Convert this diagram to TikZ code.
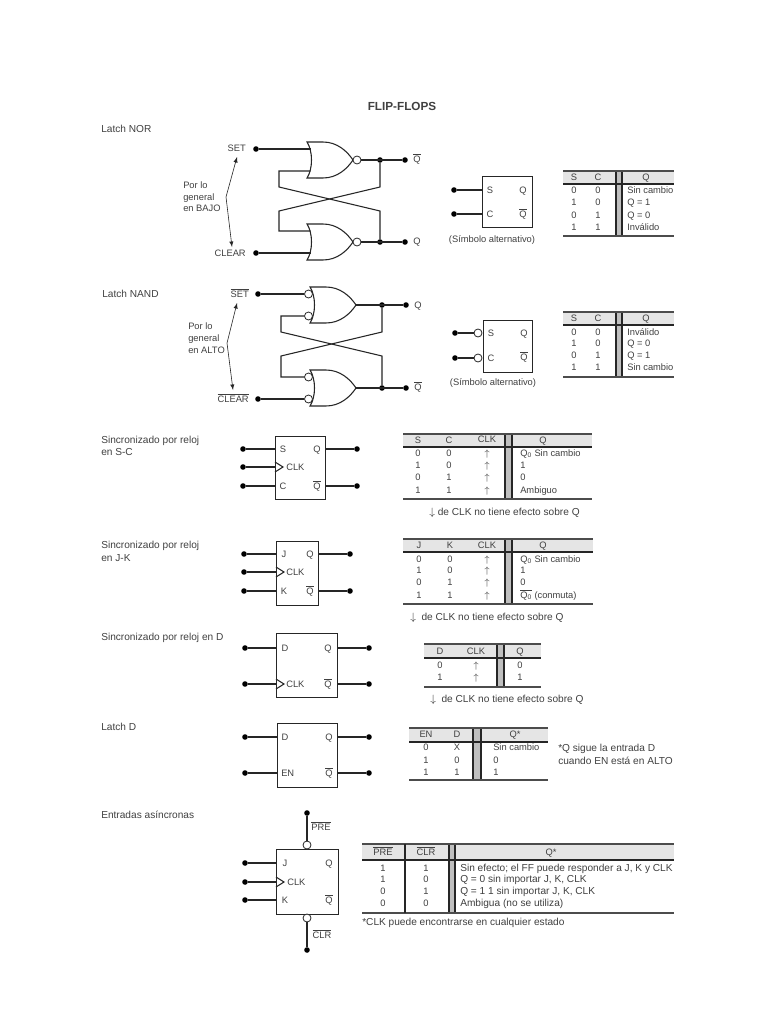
\documentclass[tikz,border=0pt]{standalone}
\usepackage{amsmath,fontspec}
\setmainfont{Liberation Sans}

\definecolor{txt}{gray}{0.25}
\definecolor{headfill}{gray}{0.9}
\definecolor{barfill}{gray}{0.75}

\newcommand{\ovl}[1]{$\overline{\hbox{#1}}$}
\newcommand{\tabframe}[7]{
  \fill[headfill] (#1,#3) rectangle (#2,#4);
  \fill[barfill] (#6,#3) rectangle (#7,#5);
  \draw[wire] (#6,#3) -- (#6,#5) (#7,#3) -- (#7,#5) (#1,#4) -- (#2,#4);
  \draw[heavy,black!70] (#1,#3) -- (#2,#3) (#1,#5) -- (#2,#5);
}

\tikzset{
  every node/.style={font=\fontsize{7}{8}\selectfont,text=txt,inner sep=0pt},
  big/.style={font=\fontsize{7.6}{9}\selectfont},
  wire/.style={line width=0.8pt,black!85},
  heavy/.style={line width=1.3pt,black!85},
  pinpt/.style={circle,fill=black,minimum size=4.2pt},
  ffbox/.style={draw=black!85,line width=0.8pt,anchor=north west},
  boxw/.style={minimum width=#1*0.75pt},
  boxh/.style={minimum height=#1*0.75pt},
  bubble/.style={circle,draw=black!85,line width=0.6pt,fill=white,minimum size=6pt},
  cell/.style={anchor=base,yshift=-2.5pt},
  lft/.style={anchor=base west,yshift=-2.5pt},
  rgt/.style={anchor=base east,yshift=-2.5pt},
  hint/.style={line width=0.45pt,black!85,<->,>=latex},
  orbody/.pic={
    \draw[wire,fill=white] (0,-18) -- (16,-18) .. controls (30,-18) and (40,-9) .. (46,0)
      .. controls (40,9) and (30,18) .. (16,18) -- (0,18)
      .. controls (6,9) and (6,-9) .. (0,-18) -- cycle;
    \coordinate (-ina) at (3.5,-11);
    \coordinate (-inb) at (3.5,11);
    \coordinate (-out) at (46,0);
  },
}

\begin{document}
\begin{tikzpicture}[x=0.75pt,y=-0.75pt]
  \useasboundingbox (0,0) rectangle (768,1024);
  \fill[white] (0,0) rectangle (768,1024);

  \node[font=\fontsize{8.8}{10}\bfseries\selectfont] (title) at (402,106) {FLIP-FLOPS};

  \node[lft,big] (nortxt) at (101,129) {Latch NOR};
  \pic (nora) at (307,160) {orbody};
  \pic (norb) at (307,242) {orbody};
  \node[bubble] (bna) at (357,160) {};
  \node[bubble] (bnb) at (357,242) {};
  \node[pinpt] (set) at (256,149) {};
  \node[pinpt] (clear) at (256,253) {};
  \node[pinpt] (qna) at (405,160) {};
  \node[pinpt] (qa) at (405,242) {};
  \node[pinpt] (ja) at (380,160) {};
  \node[pinpt] (jb) at (380,242) {};
  \draw[wire] (set) -- (nora-ina);
  \draw[wire] (clear) -- (norb-inb);
  \draw[wire] (bna) -- (qna);
  \draw[wire] (bnb) -- (qa);
  \draw[wire] (ja) -- (380,187) -- (279,211) -- (279,231) -- (norb-ina);
  \draw[wire] (jb) -- (380,211) -- (279,187) -- (279,171) -- (nora-inb);
  \node[rgt] (setl) at (246,148) {SET};
  \node[rgt] (clearl) at (246,253) {CLEAR};
  \node[lft] (qnal) at (413,159) {\ovl{Q}};
  \node[lft] (qal) at (413,241) {Q};
  \node[lft] (hinta) at (183,185) {Por lo};
  \node[lft] (hintb) at (183,197) {general};
  \node[lft] (hintc) at (183,208) {en BAJO};
  \coordinate (hs) at (237,157);
  \coordinate (hm) at (226,197);
  \coordinate (hc) at (232,247);
  \draw[hint] (hs) -- (hm) -- (hc);

  \node[ffbox,boxw=50,boxh=51] (alta) at (482,176) {};
  \node[pinpt] (alas) at (454,190) {};
  \node[pinpt] (alac) at (454,214) {};
  \draw[wire] (alas) -- (alas -| alta.west);
  \draw[wire] (alac) -- (alac -| alta.west);
  \node[cell] (altas) at (490,190) {S};
  \node[cell] (altac) at (490,214) {C};
  \node[cell] (altaq) at (523,190) {Q};
  \node[cell] (altan) at (523,214) {\ovl{Q}};
  \node[cell] (altat) at (492,239) {(Símbolo alternativo)};

  \tabframe{563}{674}{171}{184}{236}{616}{622}
  \node[cell] (tas) at (574,177) {S};
  \node[cell] (tac) at (598,177) {C};
  \node[cell] (taq) at (646,177) {Q};
  \foreach \yy/\a/\b/\q in {190/0/0/Sin cambio,202/1/0/Q = 1,215/0/1/Q = 0,227/1/1/Inválido}{
    \node[cell] (ta\yy s) at (574,\yy) {\a};
    \node[cell] (ta\yy c) at (598,\yy) {\b};
    \node[lft] (ta\yy q) at (627,\yy) {\q};
  }

  \node[lft,big] (nandtxt) at (102,294) {Latch NAND};
  \pic (nanda) at (310,305) {orbody};
  \pic (nandb) at (310,388) {orbody};
  \node[bubble] (bset) at (308.5,294) {};
  \node[bubble] (bfa) at (308.5,316) {};
  \node[bubble] (bfb) at (308.5,377) {};
  \node[bubble] (bclr) at (308.5,399) {};
  \node[pinpt] (nset) at (258,294) {};
  \node[pinpt] (nclear) at (258,399) {};
  \node[pinpt] (nqa) at (406,305) {};
  \node[pinpt] (nqb) at (406,388) {};
  \node[pinpt] (nja) at (382,305) {};
  \node[pinpt] (njb) at (382,388) {};
  \draw[wire] (nset) -- (bset);
  \draw[heavy] (nclear) -- (bclr);
  \draw[heavy] (nanda-out) -- (nqa);
  \draw[wire] (nandb-out) -- (nqb);
  \draw[wire] (nja) -- (382,332) -- (281,356) -- (281,377) -- (bfb);
  \draw[wire] (njb) -- (382,356) -- (281,332) -- (281,316) -- (bfa);
  \node[rgt] (nsetl) at (249,294) {\ovl{SET}};
  \node[rgt] (nclearl) at (249,399) {\ovl{CLEAR}};
  \node[lft] (nqal) at (414,305) {Q};
  \node[lft] (nqbl) at (414,387) {\ovl{Q}};
  \node[lft] (nhinta) at (188,326) {Por lo};
  \node[lft] (nhintb) at (188,338) {general};
  \node[lft] (nhintc) at (188,350) {en ALTO};
  \coordinate (nhs) at (237,303);
  \coordinate (nhm) at (227,343);
  \coordinate (nhc) at (233,390);
  \draw[hint] (nhs) -- (nhm) -- (nhc);

  \node[ffbox,boxw=49,boxh=52] (altb) at (483,320) {};
  \node[pinpt] (albs) at (455,333) {};
  \node[pinpt] (albc) at (455,358) {};
  \node[bubble] (bubs) at (478,333) {};
  \node[bubble] (bubc) at (478,358) {};
  \draw[heavy] (albs) -- (bubs);
  \draw[wire] (albc) -- (bubc);
  \node[cell] (altbs) at (491,333) {S};
  \node[cell] (altbc) at (491,358) {C};
  \node[cell] (altbq) at (524,333) {Q};
  \node[cell] (altbn) at (524,357) {\ovl{Q}};
  \node[cell] (altbt) at (493,382) {(Símbolo alternativo)};

  \tabframe{563}{674}{312}{325}{377}{616}{622}
  \node[cell] (tbs) at (574,318) {S};
  \node[cell] (tbc) at (598,318) {C};
  \node[cell] (tbq) at (646,318) {Q};
  \foreach \yy/\a/\b/\q in {332/0/0/Inválido,343/1/0/Q = 0,355/0/1/Q = 1,367/1/1/Sin cambio}{
    \node[cell] (tb\yy s) at (574,\yy) {\a};
    \node[cell] (tb\yy c) at (598,\yy) {\b};
    \node[lft] (tb\yy q) at (627,\yy) {\q};
  }

  \node[lft,big] (sctxta) at (101,440) {Sincronizado por reloj};
  \node[lft,big] (sctxtb) at (101,452) {en S-C};
  \node[ffbox,boxw=50,boxh=63] (sc) at (275,436) {};
  \node[pinpt] (sci) at (243,449) {};
  \node[pinpt] (scc) at (243,467) {};
  \node[pinpt] (scr) at (243,486) {};
  \node[pinpt] (sco) at (357,449) {};
  \node[pinpt] (scn) at (357,486) {};
  \draw[heavy] (sci) -- (sci -| sc.west);
  \draw[wire] (scc) -- (scc -| sc.west);
  \draw[wire] (scr) -- (scr -| sc.west);
  \draw[heavy] (sco -| sc.east) -- (sco);
  \draw[wire] (scn -| sc.east) -- (scn);
  \draw[wire] (scc -| sc.west) ++(0,-5) -- ++(8,5) -- ++(-8,5);
  \node[cell] (scs) at (283,449) {S};
  \node[lft] (scl) at (286,467) {CLK};
  \node[cell] (scd) at (283,486) {C};
  \node[cell] (scq) at (317,449) {Q};
  \node[cell] (scb) at (317,486) {\ovl{Q}};

  \tabframe{403}{592}{434}{447}{499}{505}{512}
  \node[cell] (tcs) at (418,440) {S};
  \node[cell] (tcc) at (449,440) {C};
  \node[cell] (tcl) at (487,439) {CLK};
  \node[cell] (tcq) at (543,440) {Q};
  \foreach \yy/\a/\b/\q in {453/0/0/Q\textsubscript{0} Sin cambio,465/1/0/1,477/0/1/0,490/1/1/Ambiguo}{
    \node[cell] (tc\yy s) at (418,\yy) {\a};
    \node[cell] (tc\yy c) at (449,\yy) {\b};
    \node[cell] (tc\yy k) at (487,\yy) {$\uparrow$};
    \node[lft] (tc\yy q) at (520,\yy) {\q};
  }
  \node[lft,big] (tcn) at (429,512) {$\downarrow$ de CLK no tiene efecto sobre Q};

  \node[lft,big] (jktxta) at (101,545) {Sincronizado por reloj};
  \node[lft,big] (jktxtb) at (101,558) {en J-K};
  \node[ffbox,boxw=42,boxh=64] (jk) at (276,541) {};
  \node[pinpt] (jki) at (244,554) {};
  \node[pinpt] (jkc) at (244,572) {};
  \node[pinpt] (jkr) at (244,591) {};
  \node[pinpt] (jko) at (350,554) {};
  \node[pinpt] (jkn) at (350,591) {};
  \draw[wire] (jki) -- (jki -| jk.west);
  \draw[wire] (jkc) -- (jkc -| jk.west);
  \draw[wire] (jkr) -- (jkr -| jk.west);
  \draw[wire] (jko -| jk.east) -- (jko);
  \draw[wire] (jkn -| jk.east) -- (jkn);
  \draw[wire] (jkc -| jk.west) ++(0,-5) -- ++(8,5) -- ++(-8,5);
  \node[cell] (jkj) at (284,554) {J};
  \node[lft] (jkl) at (286,572) {CLK};
  \node[cell] (jkk) at (284,591) {K};
  \node[cell] (jkq) at (310,554) {Q};
  \node[cell] (jkb) at (310,591) {\ovl{Q}};

  \tabframe{403}{593}{539}{552}{604}{505}{512}
  \node[cell] (tds) at (419,545) {J};
  \node[cell] (tdc) at (450,545) {K};
  \node[cell] (tdl) at (487,545) {CLK};
  \node[cell] (tdq) at (543,545) {Q};
  \foreach \yy/\a/\b/\q in {559/0/0/Q\textsubscript{0} Sin cambio,570/1/0/1,582/0/1/0,595/1/1/\ovl{Q\textsubscript{0}} (conmuta)}{
    \node[cell] (td\yy s) at (419,\yy) {\a};
    \node[cell] (td\yy c) at (450,\yy) {\b};
    \node[cell] (td\yy k) at (487,\yy) {$\uparrow$};
    \node[lft] (td\yy q) at (520,\yy) {\q};
  }
  \node[lft,big] (tdn) at (410,617) {$\downarrow$\ \ de CLK no tiene efecto sobre Q};

  \node[lft,big] (dtxt) at (101,637) {Sincronizado por reloj en D};
  \node[ffbox,boxw=61,boxh=64] (dff) at (276,633) {};
  \node[pinpt] (dfi) at (245,648) {};
  \node[pinpt] (dfc) at (245,684) {};
  \node[pinpt] (dfo) at (369,648) {};
  \node[pinpt] (dfn) at (369,684) {};
  \draw[wire] (dfi) -- (dfi -| dff.west);
  \draw[wire] (dfc) -- (dfc -| dff.west);
  \draw[wire] (dfo -| dff.east) -- (dfo);
  \draw[wire] (dfn -| dff.east) -- (dfn);
  \draw[wire] (dfc -| dff.west) ++(0,-5) -- ++(8,5) -- ++(-8,5);
  \node[cell] (dfd) at (285,648) {D};
  \node[lft] (dfl) at (286,684) {CLK};
  \node[cell] (dfq) at (328,648) {Q};
  \node[cell] (dfb) at (328,684) {\ovl{Q}};

  \tabframe{424}{541}{644}{658}{687}{497}{504}
  \node[cell] (tes) at (440,651) {D};
  \node[cell] (tel) at (476,651) {CLK};
  \node[cell] (teq) at (520,651) {Q};
  \foreach \yy/\a/\q in {665/0/0,677/1/1}{
    \node[cell] (te\yy s) at (440,\yy) {\a};
    \node[cell] (te\yy k) at (476,\yy) {$\uparrow$};
    \node[cell] (te\yy q) at (520,\yy) {\q};
  }
  \node[lft,big] (ten) at (430,699) {$\downarrow$\ \ de CLK no tiene efecto sobre Q};

  \node[lft,big] (ltxt) at (101,727) {Latch D};
  \node[ffbox,boxw=60,boxh=64] (lat) at (277,723) {};
  \node[pinpt] (lai) at (245,737) {};
  \node[pinpt] (lae) at (245,773) {};
  \node[pinpt] (lao) at (369,737) {};
  \node[pinpt] (lan) at (369,773) {};
  \draw[wire] (lai) -- (lai -| lat.west);
  \draw[heavy] (lae) -- (lae -| lat.west);
  \draw[wire] (lao -| lat.east) -- (lao);
  \draw[heavy] (lan -| lat.east) -- (lan);
  \node[cell] (lad) at (285,737) {D};
  \node[lft] (lal) at (281,773) {EN};
  \node[cell] (laq) at (329,737) {Q};
  \node[cell] (lab) at (329,773) {\ovl{Q}};

  \tabframe{409}{548}{728}{742}{780}{473}{481}
  \node[cell] (tfe) at (426,734) {EN};
  \node[cell] (tfd) at (457,734) {D};
  \node[cell] (tfq) at (515,734) {Q*};
  \foreach \yy/\a/\b/\q in {747/0/X/Sin cambio,760/1/0/0,772/1/1/1}{
    \node[cell] (tf\yy s) at (426,\yy) {\a};
    \node[cell] (tf\yy c) at (457,\yy) {\b};
    \node[lft] (tf\yy q) at (493,\yy) {\q};
  }
  \node[lft,big] (tfna) at (558,748) {*Q sigue la entrada D};
  \node[lft,big] (tfnb) at (558,761) {cuando EN está en ALTO};

  \node[lft,big] (atxt) at (101,815) {Entradas asíncronas};
  \node[ffbox,boxw=62,boxh=65] (asy) at (276,849) {};
  \node[pinpt] (asp) at (307,813) {};
  \node[bubble] (asbp) at (307,845) {};
  \node[bubble] (asbc) at (307,918) {};
  \node[pinpt] (asc) at (307,950) {};
  \node[pinpt] (asi) at (245,863) {};
  \node[pinpt] (ack) at (245,882) {};
  \node[pinpt] (asr) at (245,900) {};
  \draw[wire] (asp) -- (asbp);
  \draw[wire] (asbc) -- (asc);
  \draw[wire] (asi) -- (asi -| asy.west);
  \draw[wire] (ack) -- (ack -| asy.west);
  \draw[wire] (asr) -- (asr -| asy.west);
  \draw[wire] (ack -| asy.west) ++(0,-5) -- ++(8,5) -- ++(-8,5);
  \node[cell] (aspl) at (321,827) {\ovl{PRE}};
  \node[cell] (ascl) at (322,935) {\ovl{CLR}};
  \node[cell] (asj) at (285,863) {J};
  \node[lft] (asl) at (287,882) {CLK};
  \node[cell] (ask) at (285,900) {K};
  \node[cell] (asq) at (329,863) {Q};
  \node[cell] (asb) at (329,900) {\ovl{Q}};

  \tabframe{362}{674}{844}{860}{913}{449}{455}
  \draw[wire] (405,844) -- (405,913);
  \node[cell] (tgp) at (383,852) {\ovl{PRE}};
  \node[cell] (tgc) at (426,852) {\ovl{CLR}};
  \node[cell] (tgq) at (551,852) {Q*};
  \foreach \yy/\a/\b/\q in {868/1/1/{Sin efecto; el FF puede responder a J, K y CLK},879/1/0/{Q = 0 sin importar J, K, CLK},891/0/1/{Q = 1 1 sin importar J, K, CLK},903/0/0/{Ambigua (no se utiliza)}}{
    \node[cell] (tg\yy s) at (383,\yy) {\a};
    \node[cell] (tg\yy c) at (426,\yy) {\b};
    \node[lft,big] (tg\yy q) at (460,\yy) {\q};
  }
  \node[lft,big] (tgn) at (362,922) {*CLK puede encontrarse en cualquier estado};
\end{tikzpicture}
\end{document}
